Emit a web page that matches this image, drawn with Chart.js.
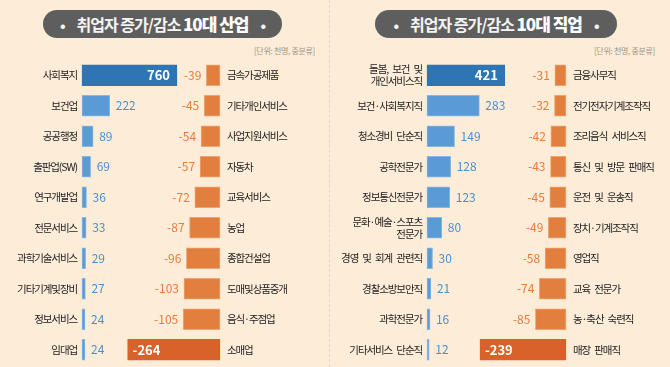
<!DOCTYPE html>
<html>
<head>
<meta charset="utf-8">
<script src="https://cdn.jsdelivr.net/npm/chart.js@4.4.1/dist/chart.umd.min.js"></script>
<style>
    html, body { margin: 0; padding: 0; }
    body { width: 670px; height: 367px; background: #fdedd8; position: relative; overflow: hidden; font-family: "Noto Sans CJK KR", sans-serif; }
    .panel { position: absolute; top: 0; width: 335px; height: 367px; }
    .pill { position: absolute; top: 10px; height: 28px; border-radius: 14px; background: #5e5e5e; color: #f4f4f4; font-size: 16px; font-weight: 700; line-height: 28px; text-align: center; letter-spacing: -1px; white-space: nowrap; }
    .pill b { font-weight: 900; font-size: 17px; color: #fff; }
    .pill .dot { font-size: 14px; font-weight: 900; margin: 0 12px; }
    .unit { position: absolute; top: 45px; font-size: 8px; color: #9a9289; letter-spacing: -0.3px; }
    .divider { position: absolute; left: 329px; top: 0; height: 367px; border-left: 1px dashed #e3d6c4; }
</style>
</head>
<body>
<div class="divider"></div>
<div class="pill" style="left:43px;width:239px;"><span class="dot">•</span>취업자 증가/감소 <b>10대 산업</b><span class="dot">•</span></div>
<div class="unit" style="right:355px;">[단위: 천명, 중분류]</div>
<div class="pill" style="left:375px;width:242px;"><span class="dot">•</span>취업자 증가/감소 <b>10대 직업</b><span class="dot">•</span></div>
<div class="unit" style="right:15px;">[단위: 천명, 중분류]</div>

<div class="panel" style="left:0;"><canvas id="industry-chart" width="335" height="367"></canvas></div>
<div class="panel" style="left:335px;"><canvas id="job-chart" width="335" height="367"></canvas></div>

<script>
// 산업 (industry)
const industryUpLabels = ['사회복지', '보건업', '공공행정', '출판업(SW)', '연구개발업', '전문서비스', '과학기술서비스', '기타기계및장비', '정보서비스', '임대업'];
const industryUpValues = [760, 222, 89, 69, 36, 33, 29, 27, 24, 24];
const industryDownLabels = ['금속가공제품', '기타개인서비스', '사업지원서비스', '자동차', '교육서비스', '농업', '종합건설업', '도매및상품중개', '음식·주점업', '소매업'];
const industryDownValues = [-39, -45, -54, -57, -72, -87, -96, -103, -105, -264];

// 직업 (occupation)
const jobUpLabels = [['돌봄, 보건 및', '개인서비스직'], '보건·사회복지직', '청소경비 단순직', '공학전문가', '정보통신전문가', ['문화·예술·스포츠', '전문가'], '경영 및 회계 관련직', '경찰소방보안직', '과학전문가', '기타서비스 단순직'];
const jobUpValues = [421, 283, 149, 128, 123, 80, 30, 21, 16, 12];
const jobDownLabels = ['금융사무직', '전기전자기계조작직', '조리음식 서비스직', '통신 및 방문 판매직', '운전 및 운송직', '장치·기계조작직', '영업직', '교육 전문가', '농·축산 숙련직', '매장 판매직'];
const jobDownValues = [-31, -32, -42, -43, -45, -49, -58, -74, -85, -239];

const colors = {
    blueTop: '#2e75b5',
    blue: '#5b9bd5',
    blueBorder: '#86b6e3',
    blueText: '#4a8fd0',
    orangeTop: '#d9622a',
    orange: '#e27f3e',
    orangeBorder: '#eea56f',
    orangeText: '#ea7a3a',
    label: '#222'
};

// tight letter spacing eats the normal spaces, so widen them a bit
function spaced(text) {
    return text.replace(/ /g, '\u2002');
}

const labelPlugin = {
    id: 'barLabels',
    afterDatasetsDraw: function (chart) {
        const ctx = chart.ctx;
        const cfg = chart.options.plugins.barLabels;
        const up = chart.getDatasetMeta(0).data;
        const down = chart.getDatasetMeta(1).data;
        const nameFont = '10.5px "Noto Sans CJK KR"';
        ctx.save();
        ctx.textBaseline = 'middle';

        up.forEach(function (bar, i) {
            // category name, right aligned before the bar
            ctx.fillStyle = colors.label;
            ctx.font = nameFont;
            ctx.letterSpacing = '-1.1px';
            ctx.textAlign = 'right';
            const name = cfg.upLabels[i];
            if (Array.isArray(name)) {
                ctx.fillText(spaced(name[0]), bar.base - 5, bar.y - 6);
                ctx.fillText(spaced(name[1]), bar.base - 5, bar.y + 6);
            } else {
                ctx.fillText(spaced(name), bar.base - 5, bar.y);
            }
            // value
            ctx.letterSpacing = '0px';
            const v = cfg.upValues[i];
            if (i === 0) {
                ctx.fillStyle = '#fff';
                ctx.font = 'bold 13px "Noto Sans CJK KR"';
                ctx.textAlign = 'right';
                ctx.fillText(v, bar.x - 7, bar.y);
            } else {
                ctx.fillStyle = colors.blueText;
                ctx.font = '12px "Noto Sans CJK KR"';
                ctx.textAlign = 'left';
                ctx.fillText(v, bar.x + 6, bar.y);
            }
        });

        down.forEach(function (bar, i) {
            ctx.fillStyle = colors.label;
            ctx.font = nameFont;
            ctx.letterSpacing = '-1.1px';
            ctx.textAlign = 'left';
            ctx.fillText(spaced(cfg.downLabels[i]), bar.base + 7, bar.y);

            ctx.letterSpacing = '0px';
            const v = cfg.downValues[i];
            if (i === cfg.downValues.length - 1) {
                ctx.fillStyle = '#fff';
                ctx.font = 'bold 13px "Noto Sans CJK KR"';
                ctx.textAlign = 'left';
                ctx.fillText(v, bar.x + 5, bar.y);
            } else {
                ctx.fillStyle = colors.orangeText;
                ctx.font = '12px "Noto Sans CJK KR"';
                ctx.textAlign = 'right';
                ctx.fillText(v, bar.x - 5, bar.y);
            }
        });
        ctx.restore();
    }
};

function makePanel(id, upLabels, upValues, downLabels, downValues, geo) {
    const width = 335;
    const el = document.getElementById(id);
    new Chart(el.getContext('2d'), {
        type: 'bar',
        data: {
            labels: upLabels.map(function (l) { return Array.isArray(l) ? l.join(' ') : l; }),
            datasets: [
                {
                    data: upValues,
                    xAxisID: 'xUp',
                    grouped: false,
                    backgroundColor: upValues.map(function (v, i) { return i === 0 ? colors.blueTop : colors.blue; }),
                    borderColor: upValues.map(function (v, i) { return i === 0 ? colors.blueTop : colors.blueBorder; }),
                    borderWidth: 1,
                    borderSkipped: false,
                    barThickness: 21
                },
                {
                    data: downValues,
                    xAxisID: 'xDown',
                    grouped: false,
                    backgroundColor: downValues.map(function (v, i) { return i === downValues.length - 1 ? colors.orangeTop : colors.orange; }),
                    borderColor: downValues.map(function (v, i) { return i === downValues.length - 1 ? colors.orangeTop : colors.orangeBorder; }),
                    borderWidth: 1,
                    borderSkipped: false,
                    barThickness: 21
                }
            ]
        },
        options: {
            indexAxis: 'y',
            responsive: false,
            animation: false,
            layout: { padding: { top: 60, bottom: 2, left: 0, right: 0 } },
            plugins: {
                legend: { display: false },
                tooltip: { enabled: false },
                barLabels: { upLabels: upLabels, upValues: upValues, downLabels: downLabels, downValues: downValues }
            },
            scales: {
                y: { display: false },
                xUp: {
                    type: 'linear', display: false,
                    min: -geo.upZero / geo.upScale,
                    max: (width - geo.upZero) / geo.upScale
                },
                xDown: {
                    type: 'linear', display: false,
                    min: -geo.downZero / geo.downScale,
                    max: (width - geo.downZero) / geo.downScale
                }
            }
        },
        plugins: [labelPlugin]
    });
}

makePanel('industry-chart', industryUpLabels, industryUpValues, industryDownLabels, industryDownValues,
    { upZero: 82, upScale: 0.125, downZero: 220, downScale: 0.35 });
makePanel('job-chart', jobUpLabels, jobUpValues, jobDownLabels, jobDownValues,
    { upZero: 92, upScale: 0.185, downZero: 231, downScale: 0.36 });
</script>
</body>
</html>
